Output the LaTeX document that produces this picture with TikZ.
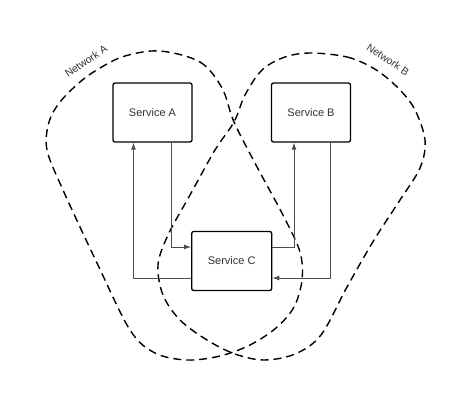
\documentclass[tikz,border=0pt]{standalone}
\usepackage{fontspec}
\setmainfont{Liberation Sans}
\usetikzlibrary{arrows.meta}
\tikzset{
  svc/.style={draw=black, line width=1.3pt, rounded corners=2pt, minimum width=79pt, minimum height=59pt, inner sep=0pt, font=\fontsize{11}{13}\selectfont, text=black!80},
  conn/.style={draw=black!70, line width=0.9pt, -{Latex[length=7pt,width=5pt]}},
  netline/.style={draw=black, line width=1.4pt, dash pattern=on 8pt off 5pt},
  netlabel/.style={font=\fontsize{10.5}{12}\selectfont, text=black!80, inner sep=0pt}
}
\begin{document}
\begin{tikzpicture}[x=1pt,y=-1pt]
\useasboundingbox (0,0) rectangle (474,412);
% networks
\draw[netline] plot[smooth cycle, tension=0.55] coordinates {
 (160,51) (200,62) (222,88) (234,122) (256,165) (284,217) (300,252) (302,280)
 (294,307) (276,328) (250,345) (220,356) (187,360) (155,353) (130,330) (97,263)
 (63,190) (47,150) (49,122) (60,102) (80,82) (100,68) (125,56)};
\draw[netline] plot[smooth cycle, tension=0.55] coordinates {
 (311,53) (347,57) (373,68) (395,85) (414,108) (425,140) (420,168) (400,200) (374,240)
 (347,287) (321,335) (295,354) (264,360) (235,354) (207,340) (180,320) (163,295)
 (158,265) (168,235) (190,195) (215,150) (234,122) (245,95) (262,70) (285,57)};
\node[netlabel, rotate=34] (netA) at (86,61) {Network A};
\node[netlabel, rotate=-34] (netB) at (388,59.5) {Network B};
% services
\node[svc, fill=white] (A) at (152.5,112.5) {Service A};
\node[svc, fill=white] (B) at (311,112.5) {Service B};
\node[svc, fill=white, minimum width=80pt] (C) at (231.7,261) {Service C};
% connectors
\draw[conn] ([xshift=18.5pt]A.south) |- ([yshift=14pt]C.west);
\draw[conn] ([yshift=-17pt]C.west) -| ([xshift=-19pt]A.south);
\draw[conn] ([yshift=14pt]C.east) -| ([xshift=-17pt]B.south);
\draw[conn] ([xshift=19.7pt]B.south) |- ([yshift=-17pt]C.east);
\end{tikzpicture}
\end{document}
